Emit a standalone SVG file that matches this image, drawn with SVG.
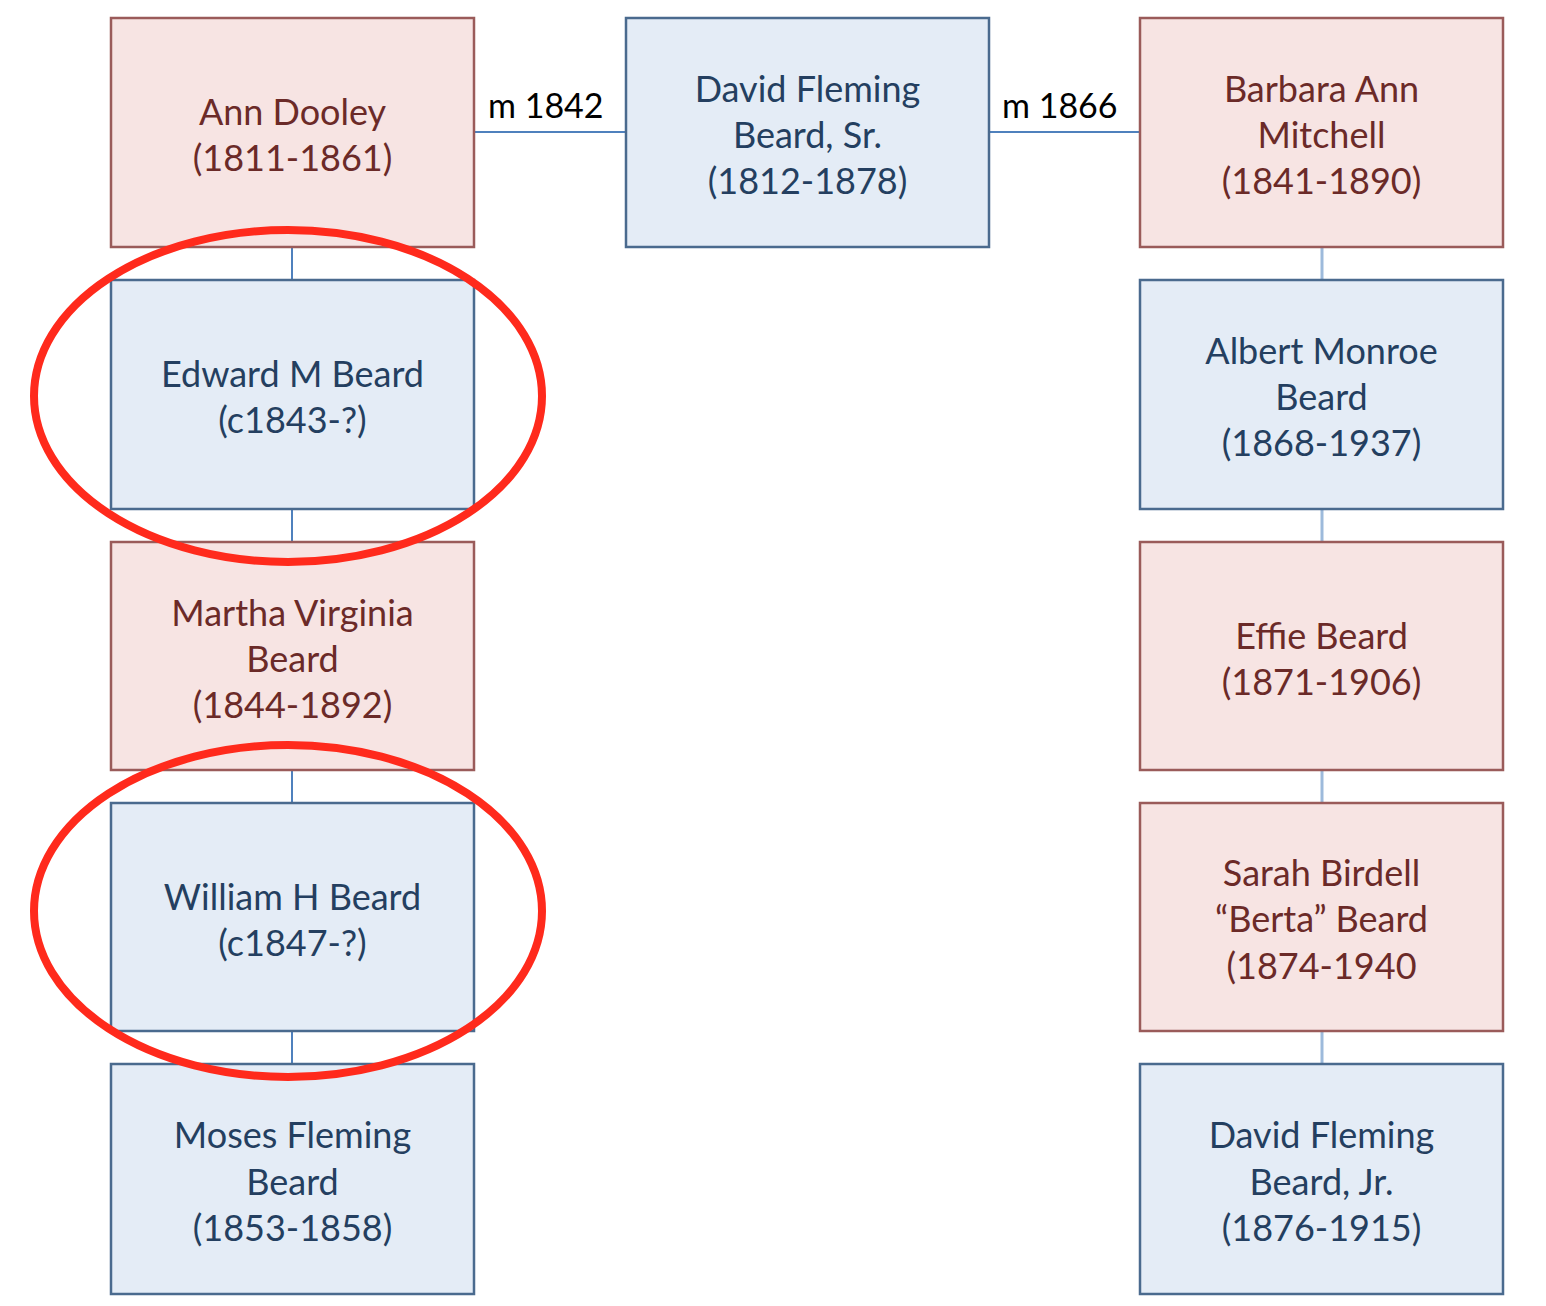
<svg xmlns="http://www.w3.org/2000/svg" width="1546" height="1306" viewBox="0 0 1546 1306">
<style>
.f{fill:#f7e4e3;stroke:#9a5b5a;stroke-width:2.5}
.m{fill:#e4ecf6;stroke:#4a6a8e;stroke-width:2.5}
text{font-family:Lato,"Liberation Sans",sans-serif;font-size:36px;text-anchor:middle}
.ft{fill:#6b2a28}
.mt{fill:#243f60}
.lbl{fill:#000;text-anchor:start}
.c{stroke:#4f81bd;stroke-width:2;fill:none}
.cr{stroke:#9dbadb;stroke-width:3;fill:none}
.ring{fill:none;stroke:#ff2a1c;stroke-width:8}
</style>
<g id="connectors">
<line class="c" x1="474" y1="132" x2="626" y2="132"/>
<line class="c" x1="989" y1="132" x2="1140" y2="132"/>
<line class="c" x1="292" y1="247" x2="292" y2="280"/>
<line class="c" x1="292" y1="509" x2="292" y2="542"/>
<line class="c" x1="292" y1="770" x2="292" y2="803"/>
<line class="c" x1="292" y1="1031" x2="292" y2="1064"/>
<line class="cr" x1="1322" y1="247" x2="1322" y2="280"/>
<line class="cr" x1="1322" y1="509" x2="1322" y2="542"/>
<line class="cr" x1="1322" y1="770" x2="1322" y2="803"/>
<line class="cr" x1="1322" y1="1031" x2="1322" y2="1064"/>
<text class="lbl" x="488" y="118" style="font-size:34px">m 1842</text>
<text class="lbl" x="1002" y="118" style="font-size:34px">m 1866</text>
</g>
<g id="ann-dooley">
<rect class="f" x="111" y="18" width="363" height="229"/>
<text class="ft" x="292.5" y="125">Ann Dooley</text>
<text class="ft" x="292.5" y="171">(1811-1861)</text>
</g>
<g id="david-sr">
<rect class="m" x="626" y="18" width="363" height="229"/>
<text class="mt" x="807.5" y="102">David Fleming</text>
<text class="mt" x="807.5" y="148">Beard, Sr.</text>
<text class="mt" x="807.5" y="194">(1812-1878)</text>
</g>
<g id="barbara">
<rect class="f" x="1140" y="18" width="363" height="229"/>
<text class="ft" x="1321.5" y="102">Barbara Ann</text>
<text class="ft" x="1321.5" y="148">Mitchell</text>
<text class="ft" x="1321.5" y="194">(1841-1890)</text>
</g>
<g id="edward">
<rect class="m" x="111" y="280" width="363" height="229"/>
<text class="mt" x="292.5" y="387">Edward M Beard</text>
<text class="mt" x="292.5" y="433">(c1843-?)</text>
</g>
<g id="martha">
<rect class="f" x="111" y="542" width="363" height="228"/>
<text class="ft" x="292.5" y="626">Martha Virginia</text>
<text class="ft" x="292.5" y="672">Beard</text>
<text class="ft" x="292.5" y="718">(1844-1892)</text>
</g>
<g id="william">
<rect class="m" x="111" y="803" width="363" height="228"/>
<text class="mt" x="292.5" y="910">William H Beard</text>
<text class="mt" x="292.5" y="956">(c1847-?)</text>
</g>
<g id="moses">
<rect class="m" x="111" y="1064" width="363" height="230"/>
<text class="mt" x="292.5" y="1148">Moses Fleming</text>
<text class="mt" x="292.5" y="1195">Beard</text>
<text class="mt" x="292.5" y="1241">(1853-1858)</text>
</g>
<g id="albert">
<rect class="m" x="1140" y="280" width="363" height="229"/>
<text class="mt" x="1321.5" y="364">Albert Monroe</text>
<text class="mt" x="1321.5" y="410">Beard</text>
<text class="mt" x="1321.5" y="456">(1868-1937)</text>
</g>
<g id="effie">
<rect class="f" x="1140" y="542" width="363" height="228"/>
<text class="ft" x="1321.5" y="649">Effie Beard</text>
<text class="ft" x="1321.5" y="695">(1871-1906)</text>
</g>
<g id="sarah">
<rect class="f" x="1140" y="803" width="363" height="228"/>
<text class="ft" x="1321.5" y="886">Sarah Birdell</text>
<text class="ft" x="1321.5" y="932">“Berta” Beard</text>
<text class="ft" x="1321.5" y="979">(1874-1940</text>
</g>
<g id="david-jr">
<rect class="m" x="1140" y="1064" width="363" height="230"/>
<text class="mt" x="1321.5" y="1148">David Fleming</text>
<text class="mt" x="1321.5" y="1195">Beard, Jr.</text>
<text class="mt" x="1321.5" y="1241">(1876-1915)</text>
</g>
<g id="highlights">
<ellipse class="ring" cx="288" cy="396" rx="254" ry="166"/>
<ellipse class="ring" cx="288" cy="911" rx="254" ry="166"/>
</g>
</svg>
